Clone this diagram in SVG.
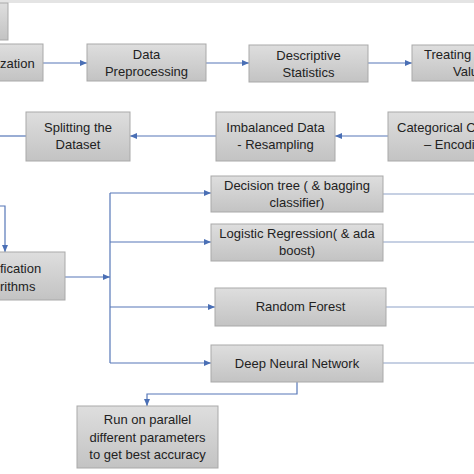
<svg xmlns="http://www.w3.org/2000/svg" width="474" height="474" viewBox="0 0 474 474">
<defs>
<linearGradient id="g" x1="0" y1="0" x2="0" y2="1">
<stop offset="0" stop-color="#dedede"/>
<stop offset="1" stop-color="#c3c3c3"/>
</linearGradient>
<marker id="ah" markerUnits="userSpaceOnUse" markerWidth="8" markerHeight="8" refX="7" refY="4" orient="auto">
<path d="M0,1 L7,4 L0,7 Z" fill="#4a6fb5"/>
</marker>
<style>
.box{fill:url(#g);stroke:#a9a9a9;stroke-width:1}
.t{font-family:"Liberation Sans",Arial,sans-serif;font-size:13px;fill:#222;text-anchor:middle}
.ts{font-family:"Liberation Sans",Arial,sans-serif;font-size:13px;fill:#222}
.c{fill:none;stroke:#5677b8;stroke-width:1.2}
.ca{fill:none;stroke:#5677b8;stroke-width:1.2;marker-end:url(#ah)}
.cr{fill:none;stroke:#8ea2c8;stroke-width:1.2}
</style>
</defs>
<rect width="474" height="474" fill="#ffffff"/>
<rect x="0" y="0" width="474" height="3" fill="#e4e4e4"/>

<g id="connectors">
<line class="ca" x1="43" y1="63" x2="87" y2="63"/>
<line class="ca" x1="206" y1="63" x2="249" y2="63"/>
<line class="ca" x1="368" y1="63" x2="412" y2="63"/>
<line class="ca" x1="388" y1="136" x2="335" y2="136"/>
<line class="ca" x1="216" y1="136" x2="130" y2="136"/>
<line class="c" x1="26" y1="136" x2="0" y2="136"/>
<polyline class="ca" points="0,206 5,206 5,252"/>
<line class="ca" x1="65" y1="277" x2="110" y2="277"/>
<line class="c" x1="110" y1="193" x2="110" y2="363"/>
<line class="ca" x1="110" y1="193" x2="211" y2="193"/>
<line class="ca" x1="110" y1="242" x2="211" y2="242"/>
<line class="ca" x1="110" y1="307" x2="215" y2="307"/>
<line class="ca" x1="110" y1="363" x2="211" y2="363"/>
<line class="cr" x1="383" y1="194" x2="474" y2="194"/>
<line class="cr" x1="383" y1="242" x2="474" y2="242"/>
<line class="cr" x1="386" y1="307" x2="474" y2="307"/>
<line class="cr" x1="383" y1="363" x2="474" y2="363"/>
<polyline class="ca" points="297,382 297,394 147,394 147,406"/>
</g>

<g id="top-left">
<rect class="box" x="-5" y="3" width="13" height="37"/>
</g>
<g id="visualization">
<rect class="box" x="-5" y="44" width="48" height="37"/>
<text class="ts" x="0" y="67.5">zation</text>
</g>
<g id="data-preprocessing">
<rect class="box" x="87" y="44" width="119" height="37"/>
<text class="t" x="146.5" y="59">Data</text>
<text class="t" x="146.5" y="76">Preprocessing</text>
</g>
<g id="descriptive-statistics">
<rect class="box" x="249" y="45" width="119" height="37"/>
<text class="t" x="308.5" y="59.5">Descriptive</text>
<text class="t" x="308.5" y="76.5">Statistics</text>
</g>
<g id="treating-missing">
<rect class="box" x="412" y="45" width="70" height="36"/>
<text class="ts" x="424" y="59">Treating</text>
<text class="ts" x="453" y="76">Valu</text>
</g>
<g id="categorical">
<rect class="box" x="388" y="112" width="94" height="49"/>
<text class="ts" x="397" y="131.5">Categorical C</text>
<text class="ts" x="424" y="149">– Encodi</text>
</g>
<g id="imbalanced">
<rect class="box" x="216" y="112" width="119" height="49"/>
<text class="t" x="275.5" y="131.5">Imbalanced Data</text>
<text class="t" x="275.5" y="149">- Resampling</text>
</g>
<g id="splitting">
<rect class="box" x="26" y="112" width="104" height="49"/>
<text class="t" x="78" y="131.5">Splitting the</text>
<text class="t" x="78" y="149">Dataset</text>
</g>
<g id="classification">
<rect class="box" x="-5" y="252" width="70" height="48"/>
<text class="ts" x="0" y="273">fication</text>
<text class="ts" x="0" y="291">rithms</text>
</g>
<g id="decision-tree">
<rect class="box" x="211" y="176" width="172" height="36"/>
<text class="t" x="297" y="190">Decision tree ( &amp; bagging</text>
<text class="t" x="297" y="207">classifier)</text>
</g>
<g id="logistic">
<rect class="box" x="211" y="224" width="172" height="37"/>
<text class="t" x="297" y="237.5">Logistic Regression( &amp; ada</text>
<text class="t" x="297" y="255">boost)</text>
</g>
<g id="random-forest">
<rect class="box" x="215" y="288" width="171" height="38"/>
<text class="t" x="300.5" y="311">Random Forest</text>
</g>
<g id="dnn">
<rect class="box" x="211" y="345" width="172" height="37"/>
<text class="t" x="297" y="368">Deep Neural Network</text>
</g>
<g id="run-parallel">
<rect class="box" x="77" y="406" width="141" height="62"/>
<text class="t" x="147.5" y="424">Run on parallel</text>
<text class="t" x="147.5" y="441.5">different parameters</text>
<text class="t" x="147.5" y="459">to get best accuracy</text>
</g>
</svg>
